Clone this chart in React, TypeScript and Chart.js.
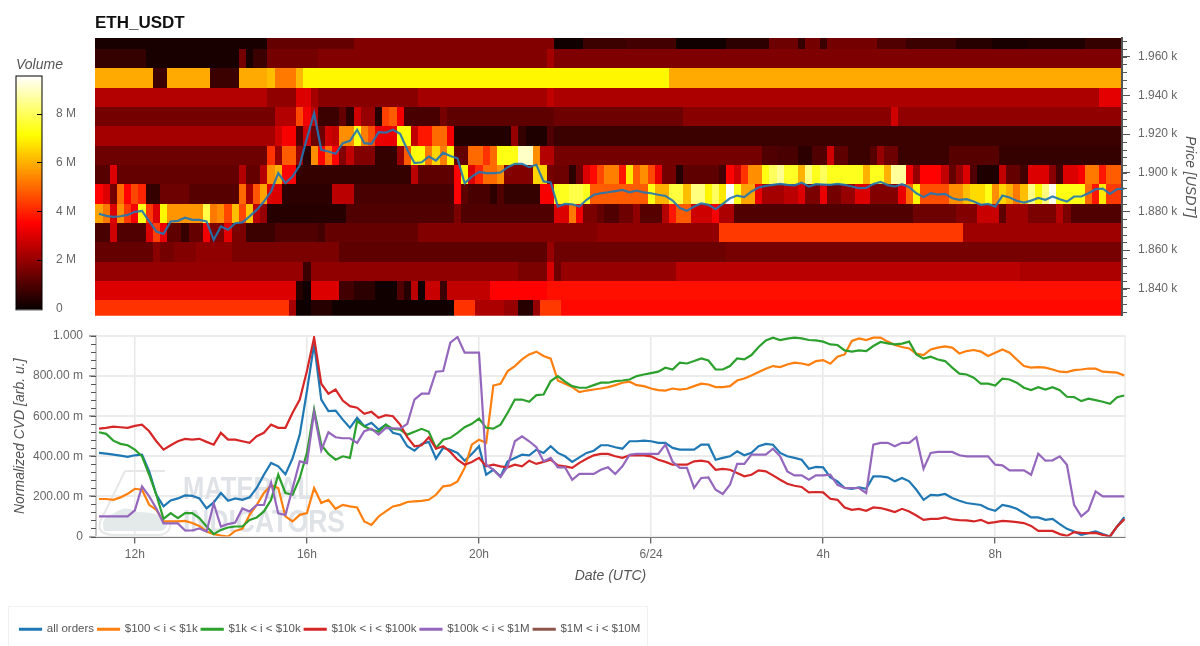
import { useEffect, useRef } from "react"
import { Chart, registerables } from "chart.js"

Chart.register(...registerables)

// samples are 10 minutes apart, the first one at 11:10 on 6/23
const firstHour = 11 + 1 / 6
const hourAt = (i: number) => firstHour + i / 6

const timeTickHours = [12, 16, 20, 24, 28, 32]
const timeTickLabels = ["12h", "16h", "20h", "6/24", "4h", "8h"]

const priceTicks = [1840, 1860, 1880, 1900, 1920, 1940, 1960]
const priceTickLabels = ["1.840 k", "1.860 k", "1.880 k", "1.900 k", "1.920 k", "1.940 k", "1.960 k"]
const cvdTicks = [0, 0.2, 0.4, 0.6, 0.8, 1]
const cvdTickLabels = ["0", "200.00 m", "400.00 m", "600.00 m", "800.00 m", "1.000"]
const volumeTicks = [0, 2, 4, 6, 8]
const volumeTickLabels = ["0", "2 M", "4 M", "6 M", "8 M"]

const price = [
  1878.8, 1877.7, 1877.2, 1877.5, 1878.2, 1879.8, 1880.3, 1874.8, 1869.6, 1868.4, 1874.8, 1875.1,
  1876.7, 1875.6, 1875.6, 1874.8, 1865.3, 1872.2, 1870.5, 1873.9, 1874.3, 1877.4, 1880.8, 1885.1,
  1890.3, 1899.8, 1894.6, 1898, 1904, 1917.9, 1930.8, 1911.9, 1911, 1909.8, 1915.3, 1916.5,
  1922.2, 1915.3, 1915, 1921, 1920.8, 1922.2, 1920.1, 1911.9, 1905, 1905.4, 1908.4, 1906.3,
  1910.4, 1908.7, 1907.5, 1894.6, 1898, 1900.4, 1899.8, 1899.8, 1900.1, 1902.9, 1904.6, 1904.6,
  1902.9, 1904.1, 1895.5, 1895, 1882.5, 1883.9, 1883.7, 1882.5, 1886, 1888.6, 1889.4, 1889.9,
  1890.5, 1891.1, 1889.9, 1890.8, 1889.8, 1889.4, 1888.6, 1888, 1885.6, 1881.7, 1880.3, 1882.5,
  1884.1, 1883.4, 1881.2, 1883.9, 1886.8, 1888.2, 1887.4, 1890.3, 1892.4, 1893.2, 1893.7, 1894.2,
  1893.7, 1893.5, 1894.9, 1892.9, 1894.1, 1893.9, 1893.7, 1894.2, 1893.7, 1892.9, 1892, 1892.2,
  1894.2, 1895.3, 1893.6, 1892.9, 1894.1, 1892.5, 1889.4, 1887.4, 1889.4, 1888.7, 1889.1, 1886.8,
  1886, 1886.3, 1885.1, 1883.4, 1883.9, 1882.5, 1888.2, 1887.2, 1885.5, 1884.6, 1885.6, 1887,
  1886, 1887.7, 1886.3, 1885.1, 1887.7, 1887.7, 1889.4, 1891.5, 1891.8, 1889.1, 1891.5, 1891.8,
]

const allOrders = [
  0.417, 0.413, 0.408, 0.403, 0.397, 0.405, 0.408, 0.325, 0.208, 0.15, 0.18, 0.19, 0.205, 0.203, 0.19, 0.14,
  0.17, 0.217, 0.178, 0.19, 0.183, 0.195, 0.242, 0.308, 0.367, 0.35, 0.31, 0.39, 0.508, 0.725, 0.96, 0.683,
  0.625, 0.628, 0.583, 0.542, 0.592, 0.55, 0.567, 0.533, 0.558, 0.517, 0.508, 0.45, 0.428, 0.462, 0.472, 0.388,
  0.442, 0.433, 0.417, 0.378, 0.412, 0.45, 0.308, 0.333, 0.3, 0.375, 0.392, 0.408, 0.405, 0.433, 0.417, 0.45,
  0.417, 0.4, 0.372, 0.395, 0.417, 0.428, 0.455, 0.455, 0.445, 0.438, 0.475, 0.475, 0.478, 0.475, 0.467, 0.467,
  0.442, 0.433, 0.433, 0.433, 0.458, 0.458, 0.383, 0.392, 0.4, 0.425, 0.405, 0.417, 0.45, 0.462, 0.458, 0.417,
  0.4, 0.392, 0.383, 0.338, 0.347, 0.345, 0.295, 0.275, 0.242, 0.238, 0.245, 0.238, 0.3, 0.3, 0.295, 0.275,
  0.292, 0.275, 0.233, 0.183, 0.208, 0.205, 0.212, 0.192, 0.178, 0.167, 0.162, 0.157, 0.138, 0.128, 0.158, 0.15,
  0.138, 0.117, 0.095, 0.095, 0.083, 0.088, 0.062, 0.038, 0.025, 0.008, 0.017, 0.025, 0.012, 0, 0.05, 0.097,
]

const orders100to1k = [
  0.187, 0.187, 0.183, 0.195, 0.213, 0.238, 0.233, 0.158, 0.133, 0.075, 0.075, 0.075, 0.078, 0.067, 0.052, 0.025,
  0.012, 0.005, 0, 0.028, 0.038, 0.108, 0.158, 0.217, 0.255, 0.242, 0.1, 0.075, 0.108, 0.117, 0.242, 0.167,
  0.183, 0.138, 0.158, 0.15, 0.145, 0.075, 0.058, 0.1, 0.125, 0.15, 0.158, 0.172, 0.175, 0.178, 0.183, 0.208,
  0.25, 0.255, 0.275, 0.342, 0.458, 0.483, 0.467, 0.753, 0.762, 0.825, 0.85, 0.883, 0.908, 0.922, 0.9, 0.887,
  0.778, 0.762, 0.745, 0.72, 0.728, 0.733, 0.738, 0.745, 0.755, 0.767, 0.772, 0.755, 0.75, 0.738, 0.73, 0.728,
  0.738, 0.733, 0.737, 0.75, 0.762, 0.758, 0.745, 0.745, 0.75, 0.778, 0.788, 0.803, 0.82, 0.837, 0.85, 0.845,
  0.858, 0.867, 0.863, 0.855, 0.875, 0.88, 0.862, 0.897, 0.908, 0.975, 0.988, 0.98, 0.992, 0.992, 0.972, 0.955,
  0.945, 0.938, 0.912, 0.905, 0.933, 0.942, 0.948, 0.942, 0.913, 0.925, 0.93, 0.922, 0.9, 0.917, 0.933, 0.917,
  0.883, 0.85, 0.842, 0.845, 0.842, 0.833, 0.822, 0.82, 0.83, 0.833, 0.838, 0.837, 0.822, 0.82, 0.817, 0.803,
]

const orders1kto10k = [
  0.52, 0.512, 0.478, 0.462, 0.455, 0.433, 0.4, 0.308, 0.208, 0.088, 0.117, 0.092, 0.117, 0.117, 0.092, 0.05,
  0.012, 0.033, 0.045, 0.05, 0.05, 0.083, 0.095, 0.125, 0.183, 0.308, 0.217, 0.208, 0.292, 0.417, 0.633, 0.458,
  0.412, 0.383, 0.4, 0.392, 0.575, 0.55, 0.533, 0.522, 0.558, 0.537, 0.533, 0.508, 0.522, 0.537, 0.522, 0.442,
  0.483, 0.492, 0.517, 0.545, 0.562, 0.588, 0.542, 0.538, 0.558, 0.617, 0.683, 0.683, 0.672, 0.705, 0.708, 0.775,
  0.8, 0.772, 0.75, 0.742, 0.742, 0.755, 0.767, 0.767, 0.775, 0.778, 0.783, 0.8, 0.808, 0.815, 0.822, 0.842,
  0.833, 0.867, 0.863, 0.875, 0.888, 0.878, 0.833, 0.833, 0.85, 0.888, 0.883, 0.905, 0.945, 0.978, 0.992, 0.98,
  0.987, 0.992, 0.988, 0.98, 0.978, 0.972, 0.958, 0.955, 0.928, 0.922, 0.928, 0.925, 0.95, 0.97, 0.963, 0.958,
  0.962, 0.972, 0.908, 0.887, 0.897, 0.883, 0.875, 0.842, 0.812, 0.808, 0.792, 0.762, 0.762, 0.753, 0.787, 0.783,
  0.767, 0.742, 0.73, 0.745, 0.733, 0.745, 0.73, 0.697, 0.695, 0.675, 0.687, 0.68, 0.672, 0.662, 0.695, 0.703,
]

const orders10kto100k = [
  0.538, 0.542, 0.548, 0.545, 0.542, 0.552, 0.558, 0.525, 0.475, 0.433, 0.455, 0.475, 0.487, 0.483, 0.487, 0.472,
  0.458, 0.517, 0.483, 0.483, 0.475, 0.467, 0.5, 0.517, 0.558, 0.542, 0.542, 0.617, 0.683, 0.825, 0.992, 0.762,
  0.712, 0.733, 0.678, 0.65, 0.642, 0.612, 0.622, 0.592, 0.605, 0.6, 0.558, 0.495, 0.45, 0.455, 0.495, 0.438,
  0.45, 0.422, 0.383, 0.358, 0.372, 0.392, 0.35, 0.358, 0.35, 0.345, 0.358, 0.35, 0.378, 0.362, 0.372, 0.383,
  0.355, 0.35, 0.342, 0.367, 0.388, 0.405, 0.412, 0.412, 0.4, 0.392, 0.405, 0.405, 0.405, 0.4, 0.383, 0.372,
  0.358, 0.358, 0.358, 0.375, 0.378, 0.372, 0.333, 0.337, 0.333, 0.317, 0.3, 0.308, 0.33, 0.325, 0.305, 0.283,
  0.263, 0.253, 0.247, 0.22, 0.222, 0.22, 0.188, 0.183, 0.145, 0.133, 0.138, 0.128, 0.145, 0.142, 0.133, 0.122,
  0.138, 0.125, 0.105, 0.083, 0.088, 0.088, 0.095, 0.085, 0.082, 0.08, 0.075, 0.083, 0.067, 0.072, 0.078, 0.075,
  0.072, 0.067, 0.053, 0.028, 0.028, 0.028, 0.012, 0.003, 0.022, 0.018, 0.017, 0.018, 0.008, 0, 0.05, 0.087,
]

const orders100kto1m = [
  0.1, 0.1, 0.1, 0.1, 0.1, 0.13, 0.25, 0.2, 0.14, 0.065, 0.065, 0.065, 0.03, 0.03, 0.04, 0.025,
  0.165, 0.05, 0.062, 0.07, 0.14, 0.125, 0.157, 0.157, 0.27, 0.115, 0.107, 0.24, 0.375, 0.366, 0.62, 0.43,
  0.52, 0.495, 0.49, 0.49, 0.467, 0.525, 0.538, 0.508, 0.542, 0.54, 0.538, 0.562, 0.683, 0.713, 0.713, 0.822,
  0.825, 0.967, 0.995, 0.917, 0.917, 0.917, 0.358, 0.333, 0.297, 0.35, 0.475, 0.5, 0.475, 0.445, 0.375, 0.392,
  0.345, 0.345, 0.283, 0.312, 0.312, 0.312, 0.333, 0.345, 0.312, 0.35, 0.408, 0.412, 0.412, 0.412, 0.412, 0.458,
  0.373, 0.342, 0.342, 0.242, 0.292, 0.295, 0.233, 0.212, 0.258, 0.362, 0.362, 0.408, 0.408, 0.408, 0.438, 0.4,
  0.325, 0.305, 0.305, 0.283, 0.305, 0.305, 0.308, 0.258, 0.242, 0.242, 0.242, 0.217, 0.458, 0.467, 0.467, 0.45,
  0.467, 0.467, 0.495, 0.338, 0.417, 0.422, 0.422, 0.422, 0.405, 0.4, 0.4, 0.4, 0.4, 0.358, 0.355, 0.33,
  0.33, 0.33, 0.308, 0.413, 0.378, 0.38, 0.4, 0.358, 0.158, 0.1, 0.13, 0.225, 0.2, 0.2, 0.2, 0.2,
]

// only shows at the very end, under the red line
const orders1mto10m = [...Array(141).fill(null), 0, 0.05, 0.087]

const seriesNames = ["all orders", "$100 < i < $1k", "$1k < i < $10k", "$10k < i < $100k", "$100k < i < $1M", "$1M < i < $10M"]
const seriesColors = ["#1f77b4", "#ff7f0e", "#2ca02c", "#d62728", "#9467bd", "#8c564b"]
const seriesValues = [allOrders, orders100to1k, orders1kto10k, orders10kto100k, orders100kto1m, orders1mto10m]

// heatmap rows, each run is [column where it ends, volume in millions]
const row1964 = [[24, 0.2], [36, 1.3], [64, 1.7], [68, 0.1], [74, 0.7], [81, 0.8], [88, 0.1], [94, 0.5], [98, 1.4], [99, 0.6], [101, 1.5], [102, 0.7], [109, 1.5], [113, 1], [120, 0.7], [125, 0.4], [130, 0.2], [138, 0.3], [143, 0.6]]
const row1954 = [[7, 0.6], [20, 0.2], [21, 1.5], [22, 0.2], [24, 0.7], [31, 1.5], [63, 1.7], [64, 2.2], [143, 1.65]]
const row1944 = [[8, 5.9], [10, 0.7], [16, 5.9], [20, 0.7], [24, 5.9], [25, 6.2], [28, 5.2], [29, 6.1], [80, 7], [143, 5.9]]
const row1934 = [[24, 2.4], [28, 1.9], [30, 3], [31, 2.2], [45, 1.8], [50, 2.2], [63, 2.2], [64, 2.6], [140, 2.3], [143, 3.1]]
const row1924 = [[25, 1.5], [28, 2.4], [29, 4.5], [30, 3.3], [31, 2.5], [34, 0.7], [35, 1.3], [36, 0.5], [37, 2.8], [39, 2], [40, 0.4], [41, 4.4], [42, 4.8], [43, 3.3], [48, 0.9], [49, 1.5], [64, 1.2], [82, 1.4], [111, 1.8], [112, 2.8], [143, 1.9]]
const row1914 = [[25, 2.2], [26, 2.8], [28, 3.4], [29, 1], [30, 2.8], [32, 1.4], [33, 2.8], [34, 2.6], [36, 5.5], [37, 7.3], [38, 5.3], [39, 4.6], [42, 3.2], [44, 7.2], [45, 2.6], [46, 3.8], [47, 3.8], [49, 5], [50, 3.3], [58, 0.35], [59, 2], [60, 0.6], [63, 0.3], [64, 1], [143, 0.7]]
const row1904 = [[24, 1.4], [25, 4.2], [26, 2], [28, 4.8], [29, 2], [30, 0.5], [31, 5.5], [32, 3.5], [33, 5], [34, 3.5], [35, 1.7], [36, 2.6], [39, 1.7], [42, 0.6], [43, 2], [44, 4.8], [46, 7.2], [47, 5.2], [48, 6.5], [49, 5.3], [50, 7], [52, 1.3], [54, 5], [55, 4.2], [56, 5], [59, 7.3], [61, 9], [62, 5.5], [64, 2.4], [93, 1.5], [95, 1], [98, 0.9], [100, 0.5], [102, 1], [103, 2.8], [105, 1.2], [108, 0.7], [109, 1.1], [110, 2], [112, 1.4], [119, 0.7], [126, 1.1], [143, 0.6]]
const row1894 = [[2, 1.1], [3, 3], [20, 1.3], [21, 2.4], [23, 1.3], [24, 2.4], [25, 5.5], [26, 6], [28, 3.5], [44, 0.6], [45, 2.5], [50, 1.2], [51, 3.5], [52, 7], [53, 3], [54, 4], [56, 5], [57, 5.5], [61, 1.7], [63, 6.5], [64, 1.5], [66, 1.4], [67, 0.5], [68, 1.4], [69, 3], [70, 3.6], [71, 4.5], [73, 5.3], [74, 3.8], [75, 6.8], [76, 4.8], [77, 5.5], [78, 4.5], [79, 3.2], [81, 1.5], [82, 0.4], [87, 1.2], [88, 0.8], [89, 3.5], [90, 2.8], [91, 4.2], [93, 5.5], [94, 7.3], [95, 8], [96, 8.5], [98, 7.5], [99, 6], [100, 8.3], [101, 7.4], [102, 8], [107, 7.4], [108, 6], [110, 7.4], [111, 6], [113, 8.6], [114, 3.3], [115, 2], [118, 3.5], [119, 2.6], [120, 1.3], [121, 2], [122, 3], [123, 1], [126, 0.3], [127, 2.6], [129, 1.3], [130, 0.8], [133, 3], [134, 1.8], [135, 0.8], [137, 3], [138, 3.4], [140, 5.2], [141, 3.8], [143, 4.8]]
const row1884 = [[1, 3.5], [2, 3], [3, 1.5], [4, 5], [5, 3.5], [6, 4.5], [7, 4], [9, 0.6], [13, 1.4], [20, 1.1], [21, 5], [22, 2.2], [23, 4.7], [24, 5.8], [26, 3], [33, 0.5], [36, 2.5], [50, 0.9], [51, 3.5], [52, 1.2], [55, 0.9], [56, 0.5], [57, 1], [62, 0.6], [64, 3.4], [66, 7.4], [68, 7.8], [69, 7.4], [77, 4.8], [78, 7.3], [80, 6], [82, 7.7], [83, 6.2], [85, 8.3], [86, 7], [87, 8], [88, 6.8], [89, 9.5], [90, 7.4], [92, 5.8], [93, 3.2], [96, 2.2], [98, 2.5], [99, 3], [101, 1.6], [102, 3.2], [104, 1.5], [106, 2], [108, 3], [112, 1.7], [113, 3.2], [114, 5], [115, 7], [119, 4.6], [121, 5.5], [122, 6.2], [124, 6.6], [125, 7.3], [126, 5.5], [127, 6.5], [128, 6], [129, 5.2], [130, 6.2], [131, 8.4], [132, 7], [133, 8.3], [134, 9.4], [138, 7.3], [139, 5], [140, 3.8], [141, 6.8], [143, 4.3]]
const row1874 = [[1, 5.8], [2, 5.2], [3, 3], [4, 5.5], [5, 4.3], [6, 3.4], [7, 7.3], [8, 4.3], [9, 3], [10, 7], [15, 5.6], [16, 7.8], [17, 5.2], [18, 5.5], [19, 4.5], [20, 6.2], [21, 4.5], [22, 6.3], [23, 2.5], [24, 2], [35, 0.4], [50, 1], [51, 1.6], [64, 1], [66, 3], [67, 5.2], [68, 3.3], [70, 1.6], [71, 1.3], [73, 1], [75, 1.4], [76, 1.9], [79, 1.1], [80, 2.4], [81, 3.8], [83, 4.8], [86, 2.8], [87, 3.4], [89, 2.3], [114, 1], [120, 1.4], [123, 1.7], [126, 2.7], [127, 1.2], [130, 2.1], [134, 1.6], [135, 2.4], [136, 1.6], [143, 1]]
const row1864 = [[2, 0.9], [3, 2.8], [7, 1], [8, 3], [9, 4.4], [10, 3.2], [12, 1.2], [13, 0.6], [15, 1.3], [16, 3.3], [18, 1.6], [19, 3.1], [21, 1.6], [25, 0.7], [31, 1], [32, 0.8], [45, 1.3], [70, 1.7], [87, 1.9], [121, 4.3], [143, 2.1]]
const row1854 = [[8, 1.3], [9, 1.8], [11, 1.5], [14, 1.7], [19, 1.9], [34, 1.6], [63, 1.2], [64, 2], [88, 1.4], [143, 1.55]]
const row1844 = [[29, 2], [30, 0.7], [59, 1.9], [63, 1.6], [64, 2.9], [65, 1.4], [81, 2], [129, 2.5], [143, 2.3]]
const row1834 = [[28, 3], [29, 0.4], [30, 0.1], [34, 3], [36, 0.8], [39, 0.5], [42, 0.1], [43, 1], [44, 0.4], [45, 2.5], [46, 0.1], [48, 2.7], [49, 0.7], [55, 2.6], [63, 3.5], [143, 3.7]]
const row1824 = [[27, 4.2], [28, 2.2], [30, 0.05], [33, 0.4], [50, 0.08], [53, 4.2], [57, 2.3], [59, 2], [61, 0.4], [62, 2], [65, 4.3], [143, 3.6]]

const priceBins = [1964, 1954, 1944, 1934, 1924, 1914, 1904, 1894, 1884, 1874, 1864, 1854, 1844, 1834, 1824]
const heatRows = [row1964, row1954, row1944, row1934, row1924, row1914, row1904, row1894, row1884, row1874, row1864, row1854, row1844, row1834, row1824]

const binSize = 10
const volumeMax = 9.54
const font = "'Liberation Sans', Arial, sans-serif"
const labelColor = "#666"
const axisColor = "#555"
const gridColor = "#ececec"

// same stops as the usual "hot" colour map
function hotColor(v: number) {
  const t = Math.min(v / volumeMax, 1)
  if (t < 0.365) return `rgb(${Math.round(10 + (245 * t) / 0.365)},0,0)`
  if (t < 0.746) return `rgb(255,${Math.round((255 * (t - 0.365)) / 0.381)},0)`
  return `rgb(255,255,${Math.round((255 * (t - 0.746)) / 0.254)})`
}

const heatmapPlugin = {
  id: "heatmap",
  beforeDatasetsDraw(chart: any) {
    const { ctx, chartArea, scales } = chart
    ctx.save()
    ctx.beginPath()
    ctx.rect(chartArea.left, chartArea.top, chartArea.right - chartArea.left, chartArea.bottom - chartArea.top)
    ctx.clip()
    heatRows.forEach((row, r) => {
      const top = Math.round(scales.y.getPixelForValue(priceBins[r] + binSize))
      const bottom = Math.round(scales.y.getPixelForValue(priceBins[r]))
      let start = 0
      row.forEach(([end, value]) => {
        const x0 = Math.round(scales.x.getPixelForValue(hourAt(start - 0.5)))
        const x1 = Math.round(scales.x.getPixelForValue(hourAt(end - 0.5)))
        ctx.fillStyle = hotColor(value)
        ctx.fillRect(x0, top, x1 - x0, bottom - top)
        start = end
      })
    })
    ctx.restore()
  },
}

const colorbarPlugin = {
  id: "colorbar",
  beforeDatasetsDraw(chart: any) {
    const { ctx, chartArea, scales } = chart
    const { left, right, top, bottom } = chartArea
    for (let v = 0; v < volumeMax; v += 0.05) {
      const y0 = scales.y.getPixelForValue(v + 0.05)
      const y1 = scales.y.getPixelForValue(v)
      ctx.fillStyle = hotColor(v)
      ctx.fillRect(left, Math.floor(y0), right - left, Math.ceil(y1) - Math.floor(y0))
    }
    ctx.strokeStyle = "#000"
    ctx.lineWidth = 1
    ctx.strokeRect(left, top, right - left, bottom - top)
    volumeTicks.slice(1).forEach((v) => {
      const y = Math.round(scales.y.getPixelForValue(v)) + 0.5
      ctx.beginPath()
      ctx.moveTo(right - 5, y)
      ctx.lineTo(right, y)
      ctx.stroke()
    })
  },
}

const minorTicksPlugin = {
  id: "minorTicks",
  afterDraw(chart: any, _args: any, opts: any) {
    const { ctx, scales, chartArea } = chart
    ctx.save()
    ctx.strokeStyle = axisColor
    ctx.lineWidth = 1
    for (let v = opts.from; v <= opts.to + 1e-6; v += opts.step) {
      const y = Math.round(scales.y.getPixelForValue(v)) + 0.5
      const x0 = opts.side === "right" ? chartArea.right : chartArea.left
      ctx.beginPath()
      ctx.moveTo(x0, y)
      ctx.lineTo(opts.side === "right" ? x0 + 5 : x0 - 5, y)
      ctx.stroke()
    }
    ctx.restore()
  },
}

// faint logo and name behind the lines of the lower plot
const watermarkPlugin = {
  id: "watermark",
  beforeDatasetsDraw(chart: any) {
    const { ctx, chartArea } = chart
    const { left, right, top, bottom } = chartArea
    // canvas starts at y=320 on the page
    ctx.save()
    ctx.strokeStyle = gridColor
    ctx.lineWidth = 1.5
    ctx.strokeRect(left, top, right - left, bottom - top)

    ctx.translate(0, -320)
    ctx.strokeStyle = "#e6e8e8"
    ctx.lineWidth = 2
    ctx.beginPath()
    ctx.moveTo(125, 471)
    ctx.lineTo(165, 471)
    ctx.moveTo(125, 471)
    ctx.lineTo(105, 512)
    ctx.quadraticCurveTo(90, 535, 115, 535)
    ctx.lineTo(160, 535)
    ctx.quadraticCurveTo(172, 533, 170, 520)
    ctx.stroke()
    ctx.fillStyle = "#e4eaea"
    ctx.beginPath()
    ctx.moveTo(104, 531)
    ctx.quadraticCurveTo(100, 516, 113, 514)
    ctx.quadraticCurveTo(125, 504, 138, 512)
    ctx.quadraticCurveTo(165, 512, 167, 525)
    ctx.quadraticCurveTo(166, 531, 158, 531)
    ctx.closePath()
    ctx.fill()

    ctx.fillStyle = "#dfe3e7"
    ctx.font = `bold 32px ${font}`
    ctx.textBaseline = "alphabetic"
    ctx.fillText("MATERIAL", 183, 499, 130)
    ctx.fillText("INDICATORS", 183, 532, 162)
    ctx.restore()
  },
}

function App() {
  const priceRef = useRef<HTMLCanvasElement>(null)
  const cvdRef = useRef<HTMLCanvasElement>(null)
  const barRef = useRef<HTMLCanvasElement>(null)

  useEffect(() => {
    if (!priceRef.current || !cvdRef.current || !barRef.current) return

    const priceChart = new Chart(priceRef.current, {
      type: "line",
      plugins: [heatmapPlugin, minorTicksPlugin],
      data: {
        datasets: [
          {
            data: price.map((y, i) => ({ x: hourAt(i), y })),
            borderColor: "rgba(31, 119, 180, 0.9)",
            borderWidth: 2.2,
            pointRadius: 0,
            clip: false,
          },
        ],
      },
      options: {
        responsive: false,
        animation: false,
        layout: { padding: { left: 95, bottom: 4 } },
        plugins: {
          legend: { display: false },
          tooltip: { enabled: false },
          title: {
            display: true,
            text: "ETH_USDT",
            align: "start",
            color: "#111",
            font: { family: font, size: 17, weight: "bold", lineHeight: 1.2 },
            padding: { top: 13, bottom: 4.6 },
          },
          minorTicks: { from: 1828, to: 1968, step: 4, side: "right" },
        } as any,
        scales: {
          x: { type: "linear", display: false, min: 11.0737, max: 34.946 },
          y: {
            type: "linear",
            position: "right",
            min: 1826,
            max: 1969.7,
            afterBuildTicks: (axis: any) => {
              axis.ticks = priceTicks.map((value) => ({ value }))
            },
            afterFit: (axis: any) => {
              axis.width = 78
            },
            grid: { drawOnChartArea: false, tickLength: 8, tickColor: axisColor, tickWidth: 1 },
            border: { color: axisColor, width: 2 },
            ticks: {
              color: labelColor,
              padding: 8,
              autoSkip: false,
              font: { family: font, size: 12 },
              callback: (value: any) => priceTickLabels[priceTicks.indexOf(value)],
            },
            title: {
              display: true,
              text: "Price [USDT]",
              color: "#555",
              font: { family: font, size: 14, style: "italic", lineHeight: 1.2 },
              padding: { top: 2, bottom: 0 },
            },
          },
        },
      },
    })

    const cvdChart = new Chart(cvdRef.current, {
      type: "line",
      plugins: [watermarkPlugin, minorTicksPlugin],
      data: {
        datasets: seriesNames.map((label, s) => ({
          label,
          data: seriesValues[s].map((y, i) => ({ x: hourAt(i), y })),
          borderColor: seriesColors[s],
          backgroundColor: seriesColors[s],
          borderWidth: 2.2,
          pointRadius: 0,
          // later series on top, except the brown one which stays under the red
          order: s === 5 ? 1 : -s,
        })),
      },
      options: {
        responsive: false,
        animation: false,
        layout: { padding: { left: 16, right: 75, top: 16, bottom: 1 } },
        plugins: {
          tooltip: { enabled: false },
          legend: {
            position: "bottom",
            align: "start",
            labels: {
              boxWidth: 21,
              boxHeight: 1,
              padding: 4,
              color: "#555",
              font: { family: font, size: 11.5 },
              sort: (a: any, b: any) => a.datasetIndex - b.datasetIndex,
            },
          },
          minorTicks: { from: 0, to: 1, step: 0.04, side: "left" },
        } as any,
        scales: {
          x: {
            type: "linear",
            min: 11.097,
            max: 35.0165,
            afterBuildTicks: (axis: any) => {
              axis.ticks = timeTickHours.map((value) => ({ value }))
            },
            afterFit: (axis: any) => {
              axis.height = 83
            },
            grid: { color: "#e8e8e8", lineWidth: 1.5, tickLength: 7, tickColor: "#333", tickWidth: 1 },
            border: { color: axisColor, width: 2 },
            ticks: {
              color: labelColor,
              padding: 3.5,
              autoSkip: false,
              maxRotation: 0,
              font: { family: font, size: 12 },
              callback: (value: any) => timeTickLabels[timeTickHours.indexOf(value)],
            },
            title: {
              display: true,
              text: "Date (UTC)",
              color: "#555",
              font: { family: font, size: 14, style: "italic", lineHeight: 1.2 },
              padding: { top: 0, bottom: 35 },
            },
          },
          y: {
            type: "linear",
            min: 0,
            max: 1,
            afterBuildTicks: (axis: any) => {
              axis.ticks = cvdTicks.map((value) => ({ value }))
            },
            afterFit: (axis: any) => {
              axis.width = 80
            },
            grid: { color: gridColor, lineWidth: 2, tickLength: 7, tickColor: axisColor, tickWidth: 1 },
            border: { color: axisColor, width: 2 },
            ticks: {
              color: labelColor,
              padding: 6,
              autoSkip: false,
              font: { family: font, size: 12 },
              callback: (value: any) => cvdTickLabels[cvdTicks.indexOf(value)],
            },
            title: {
              display: true,
              text: "Normalized CVD [arb. u.]",
              color: "#555",
              font: { family: font, size: 14, style: "italic", lineHeight: 1.2 },
              padding: { top: -4, bottom: 0 },
            },
          },
        },
      },
    })

    const barChart = new Chart(barRef.current, {
      type: "line",
      plugins: [colorbarPlugin],
      data: { datasets: [] },
      options: {
        responsive: false,
        animation: false,
        layout: { padding: { left: 16, bottom: 15 } },
        plugins: {
          legend: { display: false },
          tooltip: { enabled: false },
          title: {
            display: true,
            text: "Volume",
            align: "start",
            color: "#555",
            font: { family: font, size: 14, style: "italic", weight: "normal", lineHeight: 1.2 },
            padding: { top: 6.6, bottom: 2.6 },
          },
        },
        scales: {
          x: { type: "linear", display: false },
          y: {
            type: "linear",
            position: "right",
            min: -0.04,
            max: volumeMax,
            afterBuildTicks: (axis: any) => {
              axis.ticks = volumeTicks.map((value) => ({ value }))
            },
            afterFit: (axis: any) => {
              axis.width = 53
            },
            grid: { display: false, drawTicks: false },
            border: { display: false },
            ticks: {
              color: labelColor,
              padding: 14,
              autoSkip: false,
              font: { family: font, size: 12 },
              callback: (value: any) => volumeTickLabels[volumeTicks.indexOf(value)],
            },
          },
        },
      },
    })

    return () => {
      priceChart.destroy()
      cvdChart.destroy()
      barChart.destroy()
    }
  }, [])

  return (
    <div style={{ position: "fixed", left: 0, top: 0, width: 1200, height: 646, background: "#fff", overflow: "hidden" }}>
      <div style={{ position: "absolute", left: 8, top: 606, width: 638, height: 60, border: "1px solid #f1f1f1" }} />
      <canvas ref={priceRef} width={1200} height={331} style={{ position: "absolute", left: 0, top: 0 }} />
      <canvas ref={cvdRef} width={1200} height={326} style={{ position: "absolute", left: 0, top: 320 }} />
      <canvas ref={barRef} width={95} height={281} style={{ position: "absolute", left: 0, top: 50 }} />
    </div>
  )
}

export default App
